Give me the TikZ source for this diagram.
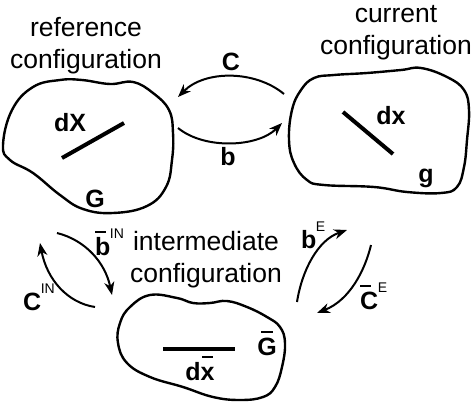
\documentclass[tikz,border=0pt]{standalone}
\usepackage{fontspec}
\setmainfont{Liberation Sans}
\usetikzlibrary{arrows.meta, positioning}

% bar over a letter (optional arg empty = bar on the left)
\newcommand\barred[2][\hidewidth]{\ooalign{#1\raisebox{0.88em}{\rule{0.45em}{0.08em}}\hidewidth\cr#2}}
\newcommand\supr[1]{\kern-0.5pt\raisebox{17pt}{\fontsize{14}{14}\selectfont\mdseries #1}}

\tikzset{
  blob/.style={line width=2.4pt, line join=round},
  segline/.style={line width=4pt},
  maparrow/.style={line width=2pt, -{Stealth[length=13pt, width=10pt, inset=4pt]}},
  conftext/.style={font=\fontsize{26.5}{32}\selectfont, align=center, inner sep=0pt},
  lbl/.style={font=\fontsize{25}{25}\selectfont\bfseries, inner sep=0pt}
}

\begin{document}
\begin{tikzpicture}[x=1pt, y=-1pt]
  \useasboundingbox (0,0) rectangle (474,410);

  % configurations
  \draw[blob] plot[smooth cycle, tension=0.7] coordinates {
    (3,145) (12,110) (33,87) (60,80) (82,80) (110,84) (133,82) (153,93)
    (169,110) (173,133) (172,160) (166,187) (147,206) (113,213) (83,209)
    (60,195) (33,173) (10,160)};
  \draw[blob] plot[smooth cycle, tension=0.7] coordinates {
    (292,110) (301,90) (314,78) (334,75) (367,73) (401,70) (421,68) (447,77)
    (464,90) (469,110) (467,140) (464,167) (457,187) (441,193) (407,192)
    (374,187) (324,185) (307,180) (294,163) (289,140)};
  \draw[blob] plot[smooth cycle, tension=0.7] coordinates {
    (118,343) (120,323) (130,307) (150,295) (177,298) (193,303) (210,303)
    (227,301) (247,307) (267,317) (280,327) (285,343) (282,367) (275,387)
    (263,397) (240,400) (213,397) (183,387) (150,377) (127,363)};

  \node[conftext, anchor=base] (reftxt) at (86,68) {reference\\configuration};
  \node[conftext, anchor=base] (curtxt) at (396,54) {current\\configuration};
  \node[conftext, anchor=base] (inttxt) at (206,282) {intermediate\\configuration};

  % line elements
  \coordinate (dXa) at (62,158);  \coordinate (dXb) at (124,123);
  \coordinate (dxa) at (343,112); \coordinate (dxb) at (393,154);
  \coordinate (dba) at (163,349); \coordinate (dbb) at (235,349);
  \draw[segline] (dXa) -- (dXb);
  \draw[segline] (dxa) -- (dxb);
  \draw[segline] (dba) -- (dbb);

  \node[lbl] (dX) at (70,123) {dX};
  \node[lbl] (G) at (95,199) {G};
  \node[lbl] (dx) at (391,116) {dx};
  \node[lbl] (g) at (426,178) {g};
  \node[lbl, anchor=base] (dxbar) at (200,380) {d\barred{x}};
  \node[lbl, anchor=base] (Gbar) at (267,355) {\barred{G}};

  % maps
  \coordinate (Cs) at (284,94);   \coordinate (Ce) at (178,97);
  \coordinate (bs) at (178,128);  \coordinate (be) at (282,123);
  \coordinate (bINs) at (57,233); \coordinate (bINe) at (112,295);
  \coordinate (CINs) at (95,307); \coordinate (CINe) at (40,243);
  \coordinate (bEs) at (297,302); \coordinate (bEe) at (347,230);
  \coordinate (CEs) at (371,245); \coordinate (CEe) at (317,313);
  \draw[maparrow] (Cs) .. controls (255,70) and (205,70) .. (Ce);
  \draw[maparrow] (bs) .. controls (205,150) and (258,147) .. (be);
  \draw[maparrow] (bINs) .. controls (85,240) and (105,262) .. (bINe);
  \draw[maparrow] (CINs) .. controls (68,303) and (47,280) .. (CINe);
  \draw[maparrow] (bEs) .. controls (302,270) and (318,240) .. (bEe);
  \draw[maparrow] (CEs) .. controls (365,270) and (350,300) .. (CEe);

  \node[lbl] (C) at (231,62) {C};
  \node[lbl] (b) at (228,157) {b};
  \node[lbl, anchor=base west] (bIN) at (95,255) {\barred[]{b}\supr{IN}};
  \node[lbl, anchor=base west] (CIN) at (23,310) {C\supr{IN}};
  \node[lbl, anchor=base west] (bE) at (301,248) {b\supr{E}};
  \node[lbl, anchor=base west] (CE) at (360,309) {\barred[]{C}\supr{E}};
\end{tikzpicture}
\end{document}
